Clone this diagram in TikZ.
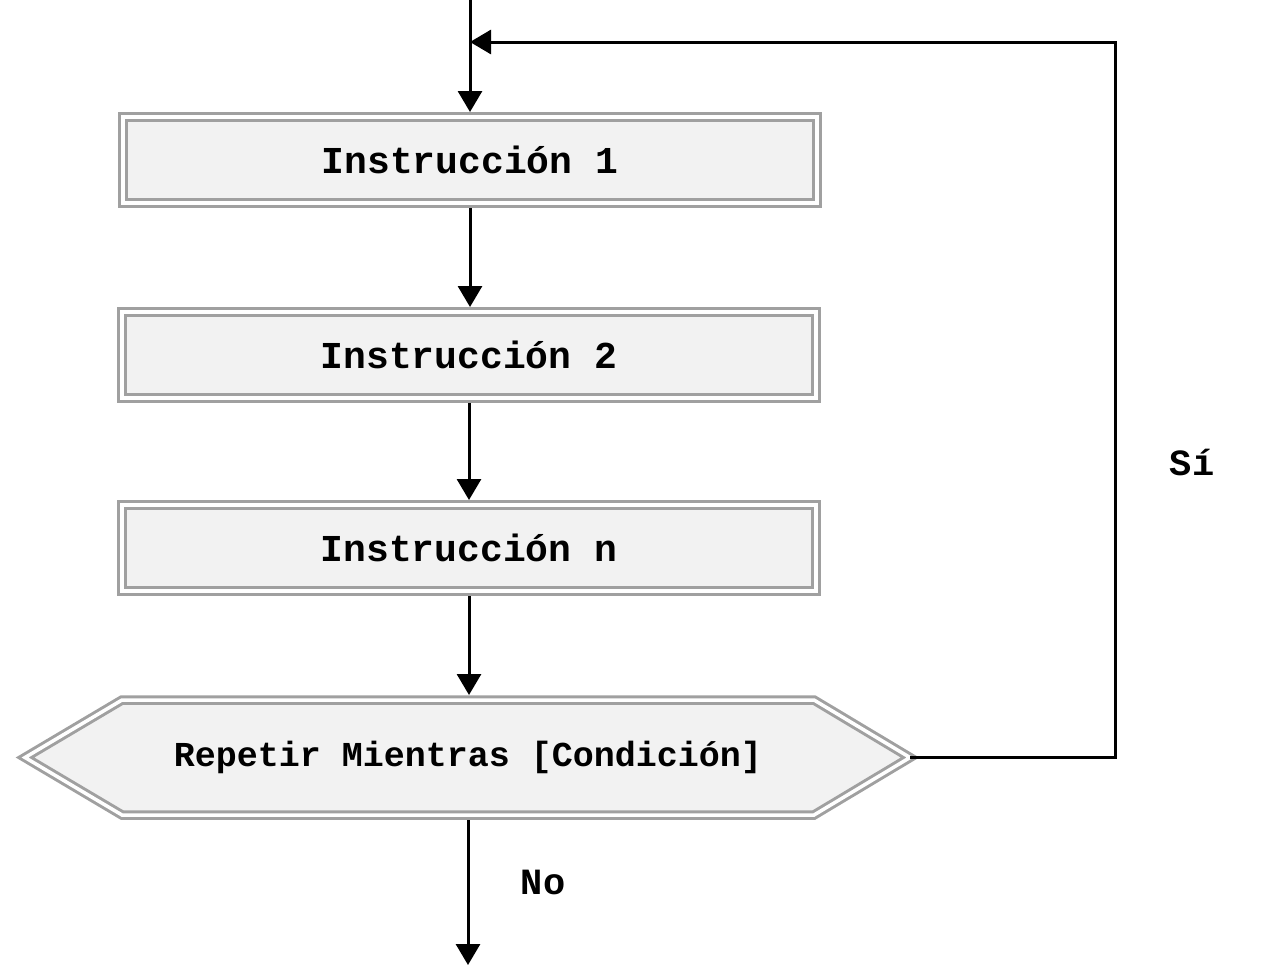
\documentclass[tikz,border=0pt]{standalone}
\usepackage{fontspec}
\setmonofont{Liberation Mono}
\usetikzlibrary{arrows.meta,calc,backgrounds}

\definecolor{boxgray}{HTML}{A0A0A0}
\definecolor{boxfill}{HTML}{F2F2F2}

\tikzset{
  instr/.style={draw=boxgray,double=white,double distance=3.5pt,line width=3pt,fill=boxfill,
    minimum width=694pt,minimum height=86pt,inner sep=0pt,outer sep=5pt,
    font=\ttfamily\bfseries\fontsize{38}{40}\selectfont},
  condtext/.style={minimum width=692pt,minimum height=115pt,inner sep=0pt,outer sep=0pt,
    font=\ttfamily\bfseries\fontsize{35}{38}\selectfont},
  hexa/.style={draw=boxgray,double=white,double distance=3.5pt,line width=3pt,fill=boxfill,line join=miter},
  lbl/.style={font=\ttfamily\bfseries\fontsize{37}{40}\selectfont,inner sep=0pt},
  flow/.style={line width=3pt,-{Triangle[length=21pt,width=24pt]}}
}

\begin{document}
\begin{tikzpicture}[x=1pt,y=-1pt]
\useasboundingbox (0,0) rectangle (1273,972);

\node[instr] (i1) at (470,160) {Instrucción 1};
\node[instr] (i2) at (469,355) {Instrucción 2};
\node[instr] (in) at (469,548) {Instrucción n};

\node[condtext] (cond) at (468,757.5) {Repetir Mientras [Condición]};
\coordinate (condtip) at ($(cond.east)+(96,0)$);
\begin{scope}[on background layer]
\draw[hexa] (cond.north west) -- (cond.north east) -- (condtip) -- (cond.south east)
  -- (cond.south west) -- ($(cond.west)-(97,0)$) -- cycle;
\end{scope}

\coordinate (entry) at (470,0);
\coordinate (join) at (470,42);
\coordinate (exit) at (468,965);

\draw[flow] (entry) -- (i1.north);
\draw[flow] (i1.south) -- (i1.south |- i2.north);
\draw[flow] (i2.south) -- (i2.south |- in.north);
\draw[flow,shorten >=5pt] (in.south) -- (in.south |- cond.north);
\draw[flow,shorten <=5pt] (cond.south) -- (exit);
\draw[flow] (condtip) -| (1115,42) -- (join);

\node[lbl] (si) at (1192,463) {Sí};
\node[lbl] (no) at (543,882) {No};

\end{tikzpicture}
\end{document}
